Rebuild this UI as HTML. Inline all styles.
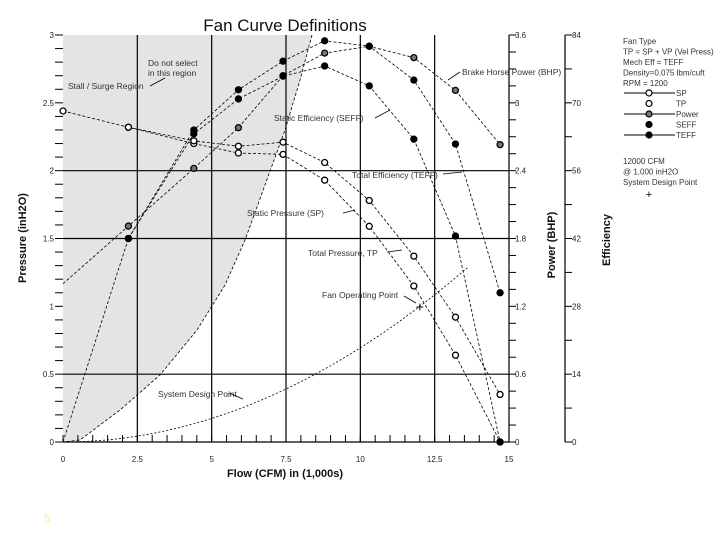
<!DOCTYPE html>
<html><head><meta charset="utf-8"><style>
html,body{margin:0;padding:0;background:#fff;width:720px;height:540px;overflow:hidden}
svg text{font-family:"Liberation Sans",sans-serif}
</style></head><body>
<svg id="c" width="720" height="540" xmlns="http://www.w3.org/2000/svg"></svg>
<script>
const flows=[0,2.2,4.4,5.9,7.4,8.8,10.3,11.8,13.2,14.7];
const spVals=[2.44,2.32,2.2,2.13,2.12,1.93,1.59,1.15,0.64,0];
const tpVals=[2.44,2.32,2.22,2.18,2.21,2.06,1.78,1.37,0.92,0.35];
const powerVals=[1.4,1.91,2.42,2.78,3.24,3.44,3.5,3.4,3.11,2.63];
const seffVals=[0,42,63.6,70.8,75.5,77.6,73.5,62.5,42.5,0];
const teffVals=[0,42,64.4,72.7,78.6,82.8,81.7,74.7,61.5,30.8];
const xTicks=[0,2.5,5,7.5,10,12.5,15];
const xTickLabels=["0","2.5","5","7.5","10","12.5","15"];
const pTicks=[0,0.5,1,1.5,2,2.5,3];
const pTickLabels=["0","0.5","1","1.5","2","2.5","3"];
const bhpTicks=[0,0.6,1.2,1.8,2.4,3,3.6];
const bhpTickLabels=["0","0.6","1.2","1.8","2.4","3","3.6"];
const effTicks=[0,14,28,42,56,70,84];
const effTickLabels=["0","14","28","42","56","70","84"];
const sysK=1/144;
const designFlow=12, designP=1.0;

const X0=63,X1=509,Y0=442,Y1=35;
const xs=v=>X0+(X1-X0)*v/15;
const yp=v=>Y0-(Y0-Y1)*v/3;
const yb=v=>Y0-(Y0-Y1)*v/3.6;
const ye=v=>Y0-(Y0-Y1)*v/84;
const svg=document.getElementById('c');
const NS='http://www.w3.org/2000/svg';
function mk(tag,attrs,parent){const e=document.createElementNS(NS,tag);for(const k in attrs)e.setAttribute(k,attrs[k]);(parent||svg).appendChild(e);return e;}
function txt(x,y,s,size,extra){const t=mk('text',Object.assign({x:x,y:y,'font-size':size||9,fill:'#222'},extra||{}));t.textContent=s;return t;}

const shade=mk('polygon',{points:"63,35 312,35 300,80 285,130 265,185 245,240 225,285 197,330 160,375 120,410 80,440 63,442",fill:'#e4e4e4',stroke:'none'});


mk('polyline',{points:"312,35 300,80 285,130 265,185 245,240 225,285 197,330 160,375 120,410 80,440 63,442",fill:'none',stroke:'#000','stroke-width':0.8,'stroke-dasharray':'3,2'});

const grid=mk('g',{stroke:'#000','stroke-width':1.2});


[2.5,5,7.5,10,12.5].forEach(v=>mk('line',{x1:xs(v),x2:xs(v),y1:Y1,y2:Y0},grid));
[0.5,1.5,2].forEach(v=>mk('line',{x1:X0,x2:X1,y1:yp(v),y2:yp(v)},grid));
mk('line',{x1:X0,x2:X1,y1:Y0,y2:Y0},grid);
mk('line',{x1:X1,x2:X1,y1:Y1,y2:Y0},grid);
mk('line',{x1:565,x2:565,y1:Y1,y2:Y0},grid);

const tk=mk('g',{stroke:'#000','stroke-width':1});
for(let v=0;v<=3.0001;v+=0.1){mk('line',{x1:55,x2:63,y1:yp(v),y2:yp(v)},tk);}
for(let v=0;v<=15.001;v+=0.5){mk('line',{x1:xs(v),x2:xs(v),y1:Y0,y2:Y0-7},tk);}
for(let v=0;v<=3.6001;v+=0.15){mk('line',{x1:X1,x2:X1+7,y1:yb(v),y2:yb(v)},tk);}
for(let v=0;v<=84.01;v+=7){mk('line',{x1:565,x2:572,y1:ye(v),y2:ye(v)},tk);}
xTicks.forEach((v,i)=>{const t=txt(xs(v),462,xTickLabels[i],8,{'text-anchor':'middle'});});
pTicks.forEach((v,i)=>{const t=txt(54,yp(v)+3,pTickLabels[i],8,{'text-anchor':'end'});});
bhpTicks.forEach((v,i)=>{const t=txt(515,yb(v)+3,bhpTickLabels[i],8);});
effTicks.forEach((v,i)=>{const t=txt(572,ye(v)+3,effTickLabels[i],8);});

let sp=[];for(let q=0;q<=13.6;q+=0.2){sp.push(xs(q)+','+yp(sysK*q*q));}
const sys=mk('polyline',{points:sp.join(' '),fill:'none',stroke:'#000','stroke-width':0.8,'stroke-dasharray':'2,2'});



function series(vals,yf,name,fill,startIdx,markStart){
  const pts=[];for(let i=startIdx;i<flows.length;i++)pts.push(xs(flows[i])+','+yf(vals[i]));
  const l=mk('polyline',{points:pts.join(' '),fill:'none',stroke:'#000','stroke-width':0.8,'stroke-dasharray':'3,2'});
  
  
  for(let i=markStart;i<flows.length;i++){
    const c=mk('circle',{cx:xs(flows[i]),cy:yf(vals[i]),r:3,fill:fill,stroke:'#000','stroke-width':1.3});
    
    
  }
}
series(spVals,yp,'static-pressure','#fff',0,0);
series(tpVals,yp,'total-pressure','#fff',1,1);
series(powerVals,yb,'power','#777',0,1);
series(seffVals,ye,'static-efficiency','#000',0,1);
series(teffVals,ye,'total-efficiency','#000',1,1);

const op=mk('text',{x:xs(designFlow),y:yp(designP)+5,'font-size':14,'text-anchor':'middle',fill:'#000'});op.textContent='+';



function ann(x,y,s,lx1,ly1,lx2,ly2,name){const t=txt(x,y,s,8.5,{fill:'#333'});mk('polyline',{points:lx1+','+ly1+' '+lx2+','+ly2,fill:'none',stroke:'#000','stroke-width':0.8});}
const d1=txt(148,66,'Do not select',8.5,{fill:'#333'});
txt(148,76,'in this region',8.5,{fill:'#333'});
ann(68,89,'Stall / Surge Region',150,86,165,78,'stall-surge-label');
ann(462,75,'Brake Horse Power (BHP)',460,72,448,80,'bhp-label');
ann(274,121,'Static Efficiency (SEFF)',375,118,390,110,'seff-label');
ann(352,178,'Total Efficiency (TEFF)',443,174,462,172,'teff-label');
ann(247,216,'Static Pressure (SP)',343,213,355,210,'sp-label');
ann(308,256,'Total Pressure, TP',387,252,402,250,'tp-label');
ann(322,298,'Fan Operating Point',404,296,416,303,'fan-operating-label');
ann(158,397,'System Design Point',229,393,243,399,'system-design-label');

const ti=txt(285,31,'Fan Curve Definitions',17,{'text-anchor':'middle',fill:'#111'});
const xt=txt(285,477,'Flow (CFM) in (1,000s)',11,{'text-anchor':'middle','font-weight':'bold',fill:'#111'});
const yt=txt(0,0,'Pressure (inH2O)',11,{'text-anchor':'middle','font-weight':'bold',fill:'#111',transform:'translate(26,238) rotate(-90)'});
const pt=txt(0,0,'Power (BHP)',11,{'text-anchor':'middle','font-weight':'bold',fill:'#111',transform:'translate(555,245) rotate(-90)'});
const et=txt(0,0,'Efficiency',11,{'text-anchor':'middle','font-weight':'bold',fill:'#111',transform:'translate(610,240) rotate(-90)'});

const lg=mk('g',{});


['Fan Type','TP = SP + VP (Vel Press)','Mech Eff = TEFF','Density=0.075 lbm/cuft','RPM = 1200'].forEach((s,i)=>{const t=mk('text',{x:623,y:44+i*10.5,'font-size':8,fill:'#333'},lg);t.textContent=s;});
const legItems=[['SP','#fff',true],['TP','#fff',false],['Power','#777',true],['SEFF','#000',false],['TEFF','#000',true]];
legItems.forEach((it,i)=>{const y=93+i*10.5;
  if(it[2])mk('line',{x1:624,x2:675,y1:y,y2:y,stroke:'#000','stroke-width':1},lg);
  mk('circle',{cx:649,cy:y,r:3,fill:it[1],stroke:'#000','stroke-width':1.2},lg);
  const t=mk('text',{x:676,y:y+3,'font-size':8,fill:'#333'},lg);t.textContent=it[0];
  
  });
['12000 CFM','@ 1.000 inH2O','System Design Point'].forEach((s,i)=>{const t=mk('text',{x:623,y:164+i*10.5,'font-size':8,fill:'#333'},lg);t.textContent=s;});
const pl=mk('text',{x:649,y:198,'font-size':11,'text-anchor':'middle',fill:'#000'},lg);pl.textContent='+';

const pg=txt(44,522,'5',11,{fill:'#f4f080'});
</script>
</body></html>
